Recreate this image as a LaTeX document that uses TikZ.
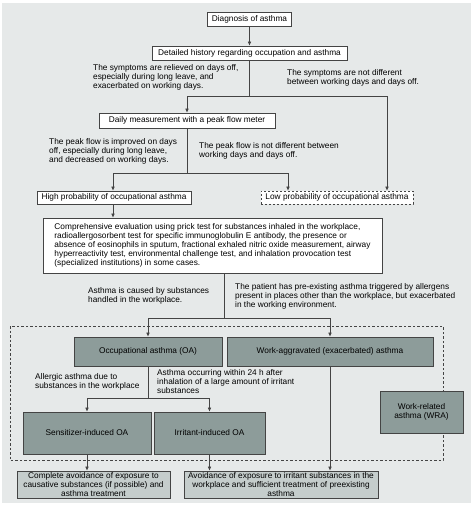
\documentclass[tikz,border=0pt]{standalone}
\usepackage{fontspec}
\setmainfont{Liberation Sans}
\usetikzlibrary{arrows.meta,calc}
\definecolor{bgc}{HTML}{E6E9E9}
\definecolor{darkfill}{HTML}{8D9C9A}
\definecolor{lightfill}{HTML}{C5CDCC}
\definecolor{linec}{HTML}{444444}
\tikzset{
  box/.style={draw=linec,line width=0.7pt,fill=white,inner sep=0pt,align=center,text=black},
  dbox/.style={box,fill=darkfill},
  lbox/.style={box,fill=lightfill},
  lowbox/.style={box,dashed,dash pattern=on 2pt off 2pt},
  lbl/.style={inner sep=0pt,anchor=north west,align=left,text=black},
  conn/.style={draw=linec,line width=0.6pt},
  arr/.style={conn,-{Latex[length=4pt,width=3.6pt]}},
  frame/.style={draw=linec,line width=0.6pt,dash pattern=on 2.5pt off 2pt}
}
\begin{document}
\begin{tikzpicture}[x=1pt,y=-1pt,font=\fontsize{8.3}{9.2}\selectfont]
\useasboundingbox (0,0) rectangle (474,507);
\fill[bgc] (2,3) rectangle (471,503);
% dashed frame
\draw[frame] (10,326) rectangle (443,460);
% boxes
\node[box,minimum width=84,minimum height=14] (diag) at (249.5,19) {Diagnosis of asthma};
\node[box,minimum width=195,minimum height=14] (hist) at (249.5,53) {Detailed history regarding occupation and asthma};
\node[box,minimum width=176,minimum height=15] (peak) at (187,120.5) {Daily measurement with a peak flow meter};
\node[box,minimum width=154,minimum height=13] (high) at (114,197.5) {High probability of occupational asthma};
\node[lowbox,minimum width=152,minimum height=13] (low) at (337,197.5) {Low probability of occupational asthma};
\node[box,minimum height=55,minimum width=339,align=left,font=\fontsize{8.3}{9}\selectfont] (comp) at (212.5,245.5) {Comprehensive evaluation using prick test for substances inhaled in the workplace,\\radioallergosorbent test for specific immunoglobulin E antibody, the presence or\\absence of eosinophils in sputum, fractional exhaled nitric oxide measurement, airway\\hyperreactivity test, environmental challenge test, and inhalation provocation test\\(specialized institutions) in some cases.};
\node[dbox,minimum width=148,minimum height=29] (oa) at (148,351.5) {Occupational asthma (OA)};
\node[dbox,minimum width=206,minimum height=29] (waa) at (330,351.5) {Work-aggravated (exacerbated) asthma};
\node[dbox,minimum width=128,minimum height=42] (sens) at (87,433) {Sensitizer-induced OA};
\node[dbox,minimum width=111,minimum height=42] (irr) at (209.5,433) {Irritant-induced OA};
\node[dbox,minimum width=83,minimum height=42] (wra) at (421.5,412) {Work-related\\asthma (WRA)};
\node[lbox,minimum width=153,minimum height=27,font=\fontsize{8.3}{8.7}\selectfont] (bl) at (93.5,484.5) {Complete avoidance of exposure to\\causative substances (if possible) and\\asthma treatment};
\node[lbox,minimum width=194,minimum height=27,font=\fontsize{8.3}{8.7}\selectfont] (br) at (281,484.5) {Avoidance of exposure to irritant substances in the\\workplace and sufficient treatment of preexisting\\asthma};
% labels
\node[lbl] (t1) at (93,64) {The symptoms are relieved on days off,\\especially during long leave, and\\exacerbated on working days.};
\node[lbl] (t2) at (287,69) {The symptoms are not different\\between working days and days off.};
\node[lbl] (t3) at (49,138) {The peak flow is improved on days\\off, especially during long leave,\\and decreased on working days.};
\node[lbl] (t4) at (199,142) {The peak flow is not different between\\working days and days off.};
\node[lbl] (t5) at (88,287) {Asthma is caused by substances\\handled in the workplace.};
\node[lbl] (t6) at (235,283) {The patient has pre-existing asthma triggered by allergens\\present in places other than the workplace, but exacerbated\\in the working environment.};
\node[lbl] (t7) at (35,373) {Allergic asthma due to\\substances in the workplace};
\node[lbl] (t8) at (157,369) {Asthma occurring within 24 h after\\inhalation of a large amount of irritant\\substances};
% coordinates
\coordinate (j1) at (249.5,96);
\coordinate (r1) at (387,96);
\coordinate (j2) at (187,173);
\coordinate (r2) at (288,173);
\coordinate (j3) at (224,318);
\coordinate (j4) at (148,398);
\coordinate (c1) at (113,0);
\coordinate (c2) at (224,0);
% connectors
\draw[arr] (diag.south) -- (hist.north);
\draw[conn] (hist.south) -- (j1);
\draw[arr] (j1) -| (peak.north);
\draw[arr] (j1) -- (r1) -- (r1 |- low.north);
\draw[conn] (peak.south) -- (j2);
\draw[arr] (j2) -| (c1 |- high.north);
\draw[arr] (j2) -- (r2) -- (r2 |- low.north);
\draw[arr] (c1 |- high.south) -- (c1 |- comp.north);
\draw[conn] (c2 |- comp.south) -- (j3);
\draw[arr] (j3) -| (oa.north);
\draw[arr] (j3) -| (waa.north);
\draw[conn] (oa.south) -- (j4);
\draw[arr] (j4) -| (sens.north);
\draw[arr] (j4) -| (irr.north);
\draw[arr] (sens.south) -- (sens.south |- bl.north);
\draw[arr] (irr.south) -- (irr.south |- br.north);
\draw[arr] (waa.south) -- (waa.south |- br.north);
\end{tikzpicture}
\end{document}
